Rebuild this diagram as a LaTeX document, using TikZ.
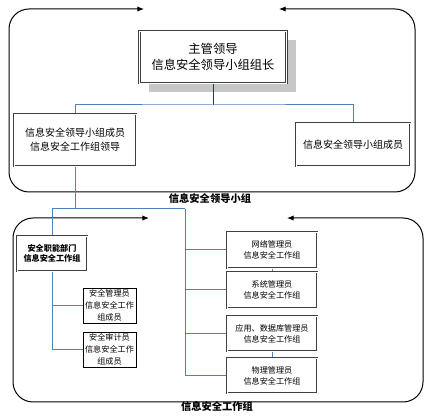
\documentclass[tikz,border=0pt]{standalone}
\usepackage{fontspec}
\newfontfamily\cjk{Noto Sans CJK SC}
\usetikzlibrary{arrows.meta,shadows}
\definecolor{linkblue}{RGB}{79,129,189}
\definecolor{linknavy}{RGB}{31,56,100}

\begin{document}
\begin{tikzpicture}[x=0.75pt,y=-0.75pt,
      dbox/.style={draw=black!75,line width=0.85pt,double=white,double distance=0.5pt,
        fill=white,align=center,inner sep=0pt},
      sbox/.style={draw=black,line width=0.6pt,fill=white,align=center,inner sep=0pt},
      frame/.style={{Latex[length=5pt,width=4pt]}-{Latex[length=5pt,width=4pt]},
        line width=0.75pt,rounded corners=15pt},
      link/.style={draw=linkblue,line width=0.75pt},
      lbl/.style={font=\cjk\bfseries\fontsize{7.7}{9}\selectfont}]
      \useasboundingbox (0,0) rectangle (432,416);
      % frames
      \draw[frame] (279,9) -| (415,192) -| (9,9) -- (144,9);
      \draw[frame] (287,218) -| (423,402) -| (13,218) -- (149,218);
      \node[lbl] (t1) at (210,199) {信息安全领导小组};
      \node[lbl] (t2) at (217,407) {信息安全工作组};
      % leading group
      \node[dbox,minimum width=110.25pt,minimum height=39pt,
        font=\cjk\fontsize{9.2}{12}\selectfont,
        drop shadow={shadow xshift=6.75pt,shadow yshift=-6.75pt,fill=black!22,opacity=1}]
        (lead) at (213,57) {主管领导\\信息安全领导小组组长};
      \node[dbox,minimum width=91.5pt,minimum height=39pt,
        font=\cjk\fontsize{7.5}{10.5}\selectfont]
        (mem1) at (75,140) {信息安全领导小组成员\\信息安全工作组领导};
      \node[dbox,minimum width=85.5pt,minimum height=32.25pt,
        font=\cjk\fontsize{7.5}{10.5}\selectfont]
        (mem2) at (353,144.5) {信息安全领导小组成员};
      % working group
      \node[dbox,minimum width=52.5pt,minimum height=26.25pt,
        font=\cjk\bfseries\fontsize{6.1}{7.5}\selectfont]
        (dept) at (52,253.5) {安全职能部门\\信息安全工作组};
      \node[sbox,minimum width=39.75pt,minimum height=26.25pt,
        font=\cjk\fontsize{6.1}{9}\selectfont]
        (sec1) at (109.5,305.5) {安全管理员\\信息安全工作\\组成员};
      \node[sbox,minimum width=39.75pt,minimum height=26.25pt,
        font=\cjk\fontsize{6.1}{9}\selectfont]
        (sec2) at (109.5,349.5) {安全审计员\\信息安全工作\\组成员};
      \node[dbox,minimum width=67.5pt,minimum height=27pt,
        font=\cjk\fontsize{6.1}{8.25}\selectfont]
        (net) at (272,250) {网络管理员\\信息安全工作组};
      \node[dbox,minimum width=67.5pt,minimum height=27pt,
        font=\cjk\fontsize{6.1}{8.25}\selectfont]
        (sys) at (272,290) {系统管理员\\信息安全工作组};
      \node[dbox,minimum width=67.5pt,minimum height=26.25pt,
        font=\cjk\fontsize{6.1}{8.25}\selectfont]
        (app) at (272,333.5) {应用、数据库管理员\\信息安全工作组};
      \node[dbox,minimum width=67.5pt,minimum height=26.25pt,
        font=\cjk\fontsize{6.1}{8.25}\selectfont]
        (phy) at (272,375.5) {物理管理员\\信息安全工作组};
      % connectors
      \coordinate (j1) at (213,105);
      \coordinate (j2) at (185,209);
      \draw[link,draw=linknavy] (lead.south) -- (lead.south |- j1);
      \draw[link] (mem1.north) |- (j1) -| (mem2.north);
      \draw[link] (mem1.south) -- (mem1.south |- j2);
      \draw[link] (dept.north) |- (j2);
      \draw[link] (j2) |- (phy.west);
      \foreach \n in {net,sys,app}
        \draw[link] (j2 |- \n.west) -- (\n.west);
      \draw[link] (net.south) -- (sys.north);
      \draw[link] (app.south) -- (phy.north);
      \draw[link] (dept.south) |- (sec2.west);
      \draw[link] (dept.south |- sec1.west) -- (sec1.west);
\end{tikzpicture}
\end{document}
